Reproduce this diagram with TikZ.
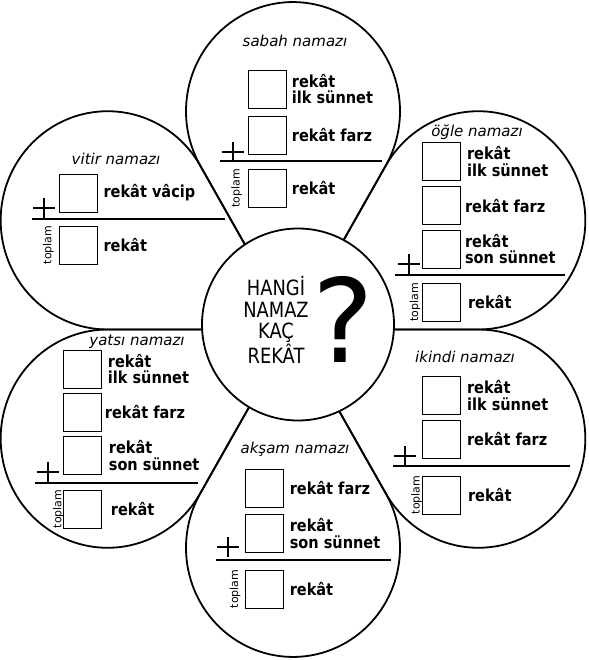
\documentclass[tikz,border=0pt]{standalone}
\usepackage{fontspec}
\setmainfont{DejaVu Sans}
\newcommand\plussign[2]{%
  \draw[plusline] (#1-11,#2) -- (#1+11,#2) (#1,#2-10) -- (#1,#2+10);%
}
\begin{document}
\begin{tikzpicture}[x=1pt,y=-1pt,
  outline/.style={line width=1.8pt, line join=round},
  rbox/.style={draw, line width=0.8pt, minimum size=38pt, inner sep=0pt},
  lbl/.style={font=\fontsize{16.5}{16.5}\selectfont\bfseries, align=left, inner sep=0pt, anchor=west, xscale=0.88},
  ttl/.style={font=\fontsize{15}{18}\selectfont\itshape, inner sep=0pt, anchor=base},
  tot/.style={font=\fontsize{11}{12}\selectfont, rotate=90, inner sep=0pt},
  sepline/.style={line width=2.2pt},
  plusline/.style={line width=1.8pt}]
\useasboundingbox (0,0) rectangle (588,660);
\coordinate (ctr) at (293,329.5);
% petals: six tangent circles around the centre, each a teardrop ending at the centre
\begin{scope}[shift={(ctr)}, yscale=1.02]
  \foreach \t in {-90,-30,30,90,150,210} {
    \draw[outline] (0,0) -- (\t-30:185.33) arc[start angle=\t-120, end angle=\t+120, radius=107] -- cycle;
  }
\end{scope}
% sabah
\node[ttl] (sabahT) at (295,47) {sabah namazı};
\node[rbox] (sabah1) at (267.3,89) {};
\node[lbl] (sabah1l) at ([xshift=5pt]sabah1.east) {rekât\\ilk sünnet};
\node[rbox] (sabah2) at (267.3,135) {};
\node[lbl] (sabah2l) at ([xshift=5pt]sabah2.east) {rekât farz};
\plussign{232.7}{151.7}
\draw[sepline] (220,161) -- (382,161);
\node[rbox] (sabah3) at (267.3,188.3) {};
\node[tot] (sabahS) at (236.7,188.3) {toplam};
\node[lbl] (sabah3l) at ([xshift=5pt]sabah3.east) {rekât};
% vitir
\node[ttl] (vitirT) at (116,165) {vitir namazı};
\node[rbox] (vitir1) at (78,193) {};
\node[lbl] (vitir1l) at ([xshift=6pt]vitir1.east) {rekât vâcip};
\plussign{44}{208}
\draw[sepline] (32,219) -- (225,219);
\node[rbox] (vitir2) at (78,245) {};
\node[tot] (vitirS) at (48.3,245) {toplam};
\node[lbl] (vitir2l) at ([xshift=6pt]vitir2.east) {rekât};
% ogle
\node[ttl] (ogleT) at (477,137) {öğle namazı};
\node[rbox] (ogle1) at (441.5,161.7) {};
\node[lbl] (ogle1l) at ([xshift=6pt]ogle1.east) {rekât\\ilk sünnet};
\node[rbox] (ogle2) at (441.5,205.7) {};
\node[lbl] (ogle2l) at ([xshift=4pt]ogle2.east) {rekât farz};
\node[rbox] (ogle3) at (441.5,249) {};
\node[lbl] (ogle3l) at ([xshift=4pt]ogle3.east) {rekât\\son sünnet};
\plussign{409}{264}
\draw[sepline] (395,275) -- (565,275);
\node[rbox] (ogle4) at (441.5,302.3) {};
\node[tot] (ogleS) at (415,302.3) {toplam};
\node[lbl] (ogle4l) at ([xshift=7pt]ogle4.east) {rekât};
% ikindi
\node[ttl] (ikindiT) at (465,362) {ikindi namazı};
\node[rbox] (ikindi1) at (441.5,395.7) {};
\node[lbl] (ikindi1l) at ([xshift=6pt]ikindi1.east) {rekât\\ilk sünnet};
\node[rbox] (ikindi2) at (441.5,439) {};
\node[lbl] (ikindi2l) at ([xshift=6pt]ikindi2.east) {rekât farz};
\plussign{405}{456}
\draw[sepline] (393,465.7) -- (570,465.7);
\node[rbox] (ikindi3) at (441.5,495) {};
\node[tot] (ikindiS) at (416.7,495) {toplam};
\node[lbl] (ikindi3l) at ([xshift=7pt]ikindi3.east) {rekât};
% yatsi
\node[ttl] (yatsiT) at (137,345) {yatsı namazı};
\node[rbox] (yatsi1) at (82.3,369) {};
\node[lbl] (yatsi1l) at ([xshift=6pt]yatsi1.east) {rekât\\ilk sünnet};
\node[rbox] (yatsi2) at (82.3,412.3) {};
\node[lbl] (yatsi2l) at ([xshift=3pt]yatsi2.east) {rekât farz};
\node[rbox] (yatsi3) at (82.3,455.7) {};
\node[lbl] (yatsi3l) at ([xshift=7pt]yatsi3.east) {rekât\\son sünnet};
\plussign{47.7}{471.7}
\draw[sepline] (35,482.7) -- (198,482.7);
\node[rbox] (yatsi4) at (82.3,509) {};
\node[tot] (yatsiS) at (58.3,509) {toplam};
\node[lbl] (yatsi4l) at ([xshift=9pt]yatsi4.east) {rekât};
% aksam
\node[ttl] (aksamT) at (295,453) {akşam namazı};
\node[rbox] (aksam1) at (264.2,488.3) {};
\node[lbl] (aksam1l) at ([xshift=6pt]aksam1.east) {rekât farz};
\node[rbox] (aksam2) at (264.2,533.3) {};
\node[lbl] (aksam2l) at ([xshift=6pt]aksam2.east) {rekât\\son sünnet};
\plussign{228.3}{547}
\draw[sepline] (216,560) -- (391,560);
\node[rbox] (aksam3) at (264.2,589) {};
\node[tot] (aksamS) at (235,589) {toplam};
\node[lbl] (aksam3l) at ([xshift=6pt]aksam3.east) {rekât};
% hub
\node[circle, draw, fill=white, line width=1.8pt, minimum size=192pt, inner sep=0pt] (hub) at (298,324.5) {};
\node[font=\fontsize{21}{21.5}\selectfont, align=center, xscale=0.85, inner sep=0pt] (htext) at (276,320) {HANGİ\\NAMAZ\\KAÇ\\REKÂT};
\node[font=\fontsize{116}{116}\selectfont, inner sep=0pt, anchor=base] (qm) at (343,362) {?};
\end{tikzpicture}
\end{document}
